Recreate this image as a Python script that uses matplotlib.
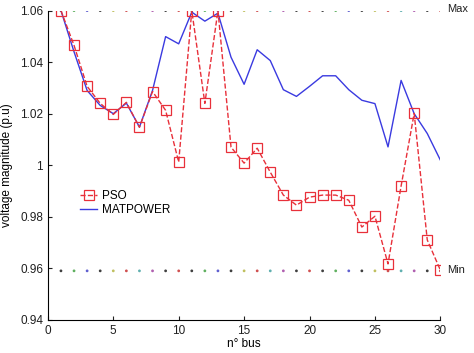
import matplotlib.pyplot as plt
import matplotlib

matplotlib.rc('font', family='Liberation Sans')

bus = list(range(1, 31))
pso = [1.060, 1.0465, 1.0306, 1.0240, 1.0197, 1.0244, 1.0147, 1.0286, 1.0213, 1.0012,
       1.060, 1.0240, 1.060, 1.0070, 1.0008, 1.0066, 0.9973, 0.9884, 0.9845, 0.9876,
       0.9884, 0.9884, 0.9864, 0.9760, 0.9802, 0.9617, 0.9919, 1.0201, 0.9710, 0.9593]
matpower = [1.060, 1.044, 1.029, 1.0232, 1.0200, 1.0241, 1.0148, 1.0290, 1.0499, 1.0471,
            1.0594, 1.0559, 1.0590, 1.0419, 1.0314, 1.0448, 1.0406, 1.0293, 1.0267, 1.0306,
            1.0347, 1.0347, 1.0293, 1.0252, 1.0239, 1.0071, 1.0329, 1.0200, 1.0123, 1.0020]
vmax = 1.06
vmin = 0.959
dot_colors = ['#404040', '#60b060', '#6060d0', '#404040', '#c0c060', '#d05050',
              '#60b0b0', '#b060b0', '#404040', '#d05050']

fig = plt.figure(figsize=(4.74, 3.53), dpi=100)
ax = fig.add_axes([0.101, 0.094, 0.828, 0.876])

# limites Max / Min en pointillés multicolores
cols = [dot_colors[i % len(dot_colors)] for i in range(len(bus))]
ax.scatter(bus, [vmax] * len(bus), s=1.0, c=cols, zorder=1)
ax.scatter(bus, [vmin] * len(bus), s=1.0, c=cols, zorder=1)

ax.plot(bus, pso, '--s', color='#e8303a', lw=1, ms=7, mfc='none', mew=0.9, label='PSO', zorder=3)
ax.plot(bus, matpower, '-', color='#3a3ae0', lw=1, label='MATPOWER', zorder=2)

ax.text(30.55, vmax + 0.0005, 'Max', fontsize=8, va='center', color='#202020')
ax.text(30.55, vmin + 0.0005, 'Min', fontsize=8, va='center', color='#202020')

ax.set_xlim(0, 30)
ax.set_ylim(0.94, 1.06)
ax.set_xticks([0, 5, 10, 15, 20, 25, 30])
ax.set_yticks([0.94, 0.96, 0.98, 1.0, 1.02, 1.04, 1.06])
ax.set_yticklabels(['0.94', '0.96', '0.98', '1', '1.02', '1.04', '1.06'])
ax.tick_params(direction='in', length=3, labelsize=8.5, colors='#202020')
ax.spines['top'].set_visible(False)
ax.spines['right'].set_visible(False)
ax.set_xlabel('n° bus', fontsize=8.5, labelpad=1)
ax.set_ylabel('voltage magnitude (p.u)', fontsize=8.5, labelpad=5)

ax.legend(loc='upper left', bbox_to_anchor=(0.068, 0.44), frameon=False, fontsize=8.5,
          handlelength=1.4, handletextpad=0.4, labelspacing=0.2, borderpad=0)

fig.savefig('out.png', dpi=100)
